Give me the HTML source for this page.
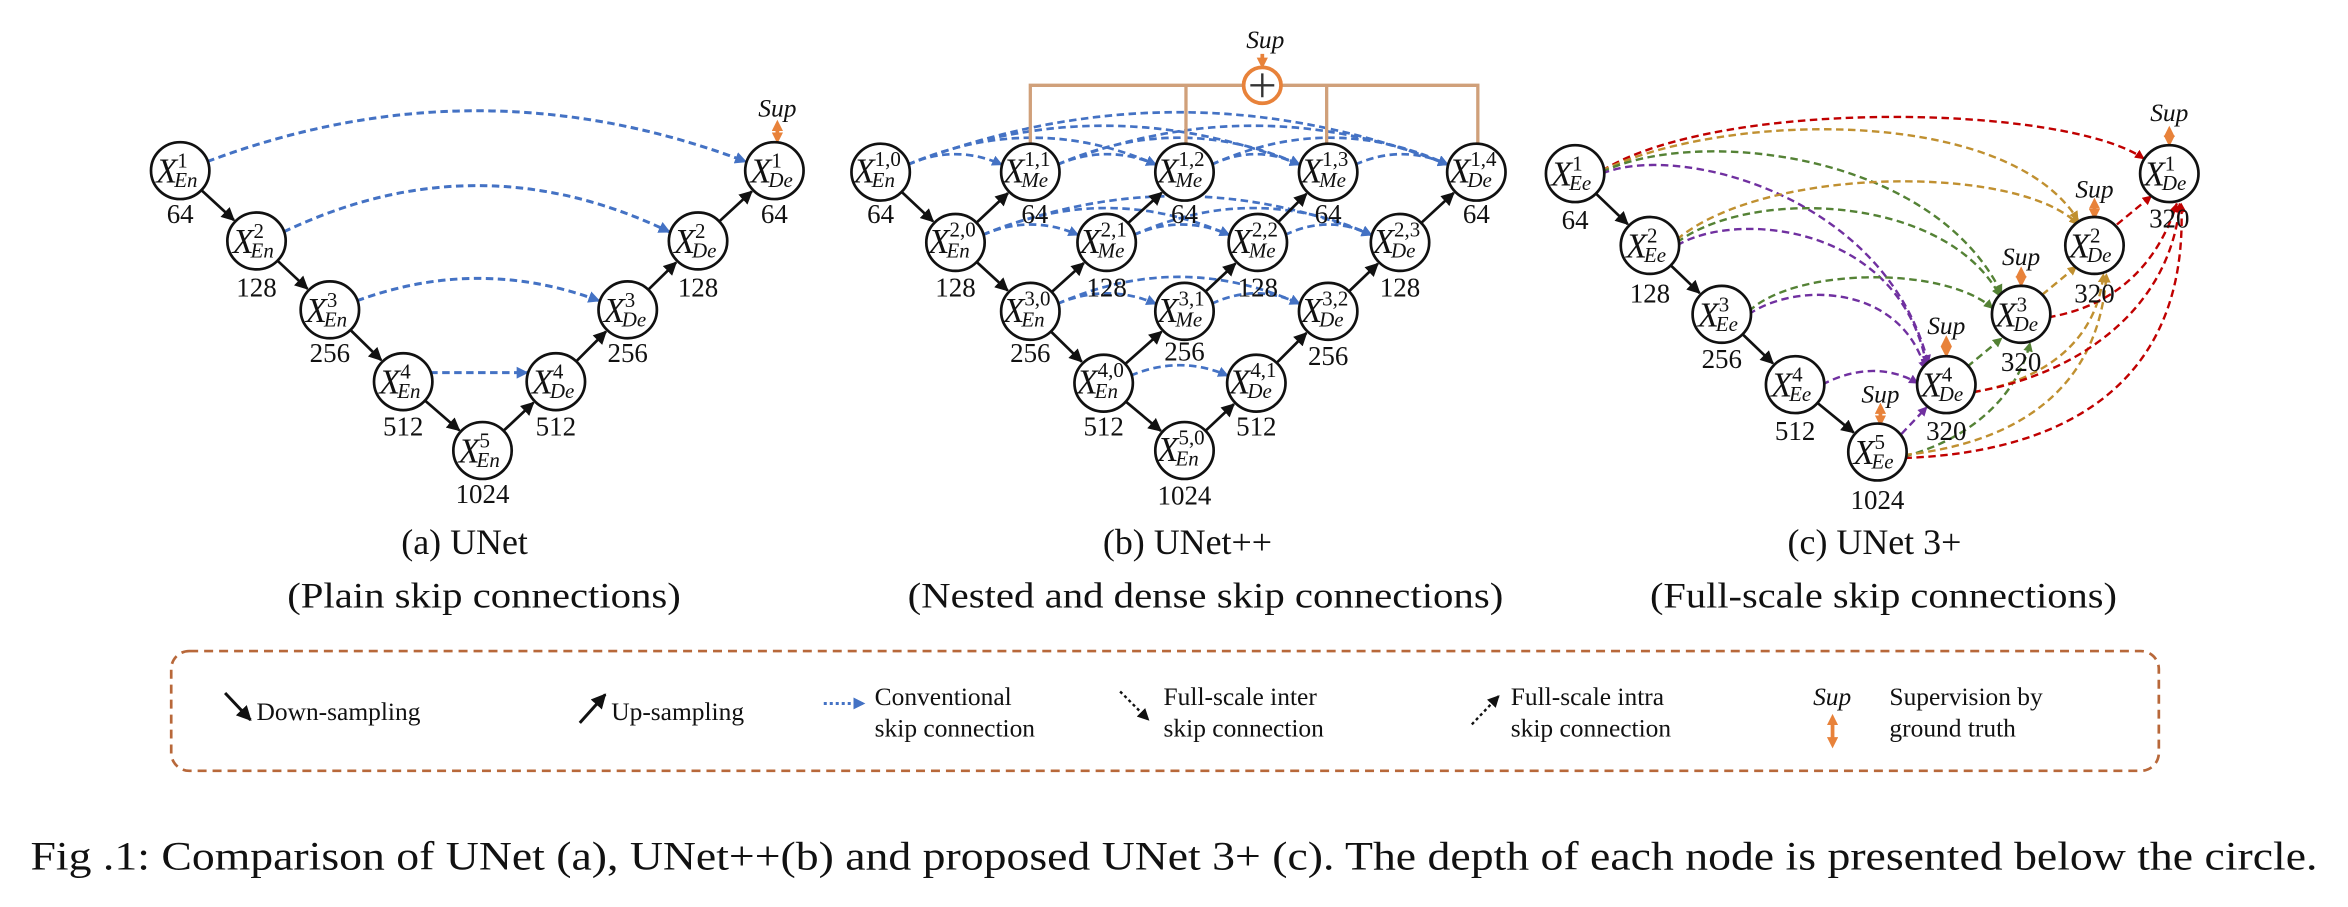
<!DOCTYPE html>
<html><head><meta charset="utf-8"><style>
html,body{margin:0;padding:0;background:#fff}
svg{display:block}
text{font-family:"Liberation Serif",serif;fill:#111}
.X{font-size:23px;font-style:italic}
.sp{font-size:14px;font-style:normal}
.sb{font-size:14px;font-style:italic}
.num{font-size:18px;text-anchor:middle}
.sup{font-size:17px;font-style:italic;text-anchor:middle}
.ttl{font-size:24px;text-anchor:middle}
.lg{font-size:17px}
</style></head><body>
<svg id="s" width="2348" height="907" viewBox="0 0 1568 606" xmlns="http://www.w3.org/2000/svg">
<defs>
<marker id="mk" viewBox="0 0 10 10" refX="9" refY="5" markerWidth="5" markerHeight="5" orient="auto"><path d="M0,0L10,5L0,10z" fill="#111"/></marker>
<marker id="mb" viewBox="0 0 10 10" refX="9" refY="5" markerWidth="4" markerHeight="4" orient="auto"><path d="M0,0L10,5L0,10z" fill="#4472c4"/></marker>
<marker id="mp" viewBox="0 0 10 10" refX="9" refY="5" markerWidth="4" markerHeight="4" orient="auto"><path d="M0,0L10,5L0,10z" fill="#7030a0"/></marker>
<marker id="mg" viewBox="0 0 10 10" refX="9" refY="5" markerWidth="4" markerHeight="4" orient="auto"><path d="M0,0L10,5L0,10z" fill="#548235"/></marker>
<marker id="mt" viewBox="0 0 10 10" refX="9" refY="5" markerWidth="4" markerHeight="4" orient="auto"><path d="M0,0L10,5L0,10z" fill="#c09030"/></marker>
<marker id="mr" viewBox="0 0 10 10" refX="9" refY="5" markerWidth="4" markerHeight="4" orient="auto"><path d="M0,0L10,5L0,10z" fill="#c00000"/></marker>
<marker id="mo" viewBox="0 0 10 10" refX="6" refY="5" markerWidth="3" markerHeight="3" orient="auto-start-reverse"><path d="M0,0L10,5L0,10z" fill="#e8823a"/></marker>
</defs>
<g id="geo"></g>

<!-- Panel a labels -->
<text class="X" x="104" y="122">X<tspan class="sp" x="118" y="112">1</tspan><tspan class="sb" x="116" y="125">En</tspan></text>
<text class="X" x="155" y="169">X<tspan class="sp" x="169" y="159">2</tspan><tspan class="sb" x="167" y="172">En</tspan></text>
<text class="X" x="204" y="215">X<tspan class="sp" x="218" y="205">3</tspan><tspan class="sb" x="216" y="218">En</tspan></text>
<text class="X" x="253" y="263">X<tspan class="sp" x="267" y="253">4</tspan><tspan class="sb" x="265" y="266">En</tspan></text>
<text class="X" x="306" y="309">X<tspan class="sp" x="320" y="299">5</tspan><tspan class="sb" x="318" y="312">En</tspan></text>
<text class="X" x="355" y="263">X<tspan class="sp" x="369" y="253">4</tspan><tspan class="sb" x="367" y="266">De</tspan></text>
<text class="X" x="403" y="215">X<tspan class="sp" x="417" y="205">3</tspan><tspan class="sb" x="415" y="218">De</tspan></text>
<text class="X" x="450" y="169">X<tspan class="sp" x="464" y="159">2</tspan><tspan class="sb" x="462" y="172">De</tspan></text>
<text class="X" x="501" y="122">X<tspan class="sp" x="515" y="112">1</tspan><tspan class="sb" x="513" y="125">De</tspan></text>
<text class="num" x="120" y="149">64</text><text class="num" x="171" y="198">128</text><text class="num" x="220" y="242">256</text><text class="num" x="269" y="291">512</text><text class="num" x="322" y="336">1024</text><text class="num" x="371" y="291">512</text><text class="num" x="419" y="242">256</text><text class="num" x="466" y="198">128</text><text class="num" x="517" y="149">64</text>
<text class="sup" x="519" y="78">Sup</text>
<text class="ttl" x="310" y="370">(a) UNet</text>
<text class="ttl" x="323" y="406" textLength="263" lengthAdjust="spacingAndGlyphs">(Plain skip connections)</text>

<!-- Panel b labels -->
<text class="X" x="570" y="122">X<tspan class="sp" x="584" y="111">1,0</tspan><tspan class="sb" x="582" y="125">En</tspan></text>
<text class="X" x="670" y="122">X<tspan class="sp" x="684" y="111">1,1</tspan><tspan class="sb" x="682" y="125">Me</tspan></text>
<text class="X" x="773" y="122">X<tspan class="sp" x="787" y="111">1,2</tspan><tspan class="sb" x="785" y="125">Me</tspan></text>
<text class="X" x="869" y="122">X<tspan class="sp" x="883" y="111">1,3</tspan><tspan class="sb" x="881" y="125">Me</tspan></text>
<text class="X" x="968" y="122">X<tspan class="sp" x="982" y="111">1,4</tspan><tspan class="sb" x="980" y="125">De</tspan></text>
<text class="X" x="620" y="169">X<tspan class="sp" x="634" y="158">2,0</tspan><tspan class="sb" x="632" y="172">En</tspan></text>
<text class="X" x="721" y="169">X<tspan class="sp" x="735" y="158">2,1</tspan><tspan class="sb" x="733" y="172">Me</tspan></text>
<text class="X" x="822" y="169">X<tspan class="sp" x="836" y="158">2,2</tspan><tspan class="sb" x="834" y="172">Me</tspan></text>
<text class="X" x="917" y="169">X<tspan class="sp" x="931" y="158">2,3</tspan><tspan class="sb" x="929" y="172">De</tspan></text>
<text class="X" x="670" y="215">X<tspan class="sp" x="684" y="204">3,0</tspan><tspan class="sb" x="682" y="218">En</tspan></text>
<text class="X" x="773" y="215">X<tspan class="sp" x="787" y="204">3,1</tspan><tspan class="sb" x="785" y="218">Me</tspan></text>
<text class="X" x="869" y="215">X<tspan class="sp" x="883" y="204">3,2</tspan><tspan class="sb" x="881" y="218">De</tspan></text>
<text class="X" x="719" y="263">X<tspan class="sp" x="733" y="252">4,0</tspan><tspan class="sb" x="731" y="266">En</tspan></text>
<text class="X" x="821" y="263">X<tspan class="sp" x="835" y="252">4,1</tspan><tspan class="sb" x="833" y="266">De</tspan></text>
<text class="X" x="773" y="308">X<tspan class="sp" x="787" y="297">5,0</tspan><tspan class="sb" x="785" y="311">En</tspan></text>
<text class="num" x="588" y="149">64</text><text class="num" x="691" y="149">64</text><text class="num" x="791" y="149">64</text><text class="num" x="887" y="149">64</text><text class="num" x="986" y="149">64</text>
<text class="num" x="638" y="198">128</text><text class="num" x="739" y="198">128</text><text class="num" x="840" y="198">128</text><text class="num" x="935" y="198">128</text>
<text class="num" x="688" y="242">256</text><text class="num" x="791" y="241">256</text><text class="num" x="887" y="244">256</text>
<text class="num" x="737" y="291">512</text><text class="num" x="839" y="291">512</text><text class="num" x="791" y="337">1024</text>
<text class="sup" x="845" y="32">Sup</text>
<text class="ttl" x="793" y="370">(b) UNet++</text>
<text class="ttl" x="805" y="406" textLength="398" lengthAdjust="spacingAndGlyphs">(Nested and dense skip connections)</text>

<!-- Panel c labels -->
<text class="X" x="1036" y="124">X<tspan class="sp" x="1050" y="114">1</tspan><tspan class="sb" x="1048" y="127">Ee</tspan></text>
<text class="X" x="1086" y="172">X<tspan class="sp" x="1100" y="162">2</tspan><tspan class="sb" x="1098" y="175">Ee</tspan></text>
<text class="X" x="1134" y="218">X<tspan class="sp" x="1148" y="208">3</tspan><tspan class="sb" x="1146" y="221">Ee</tspan></text>
<text class="X" x="1183" y="265">X<tspan class="sp" x="1197" y="255">4</tspan><tspan class="sb" x="1195" y="268">Ee</tspan></text>
<text class="X" x="1238" y="310">X<tspan class="sp" x="1252" y="300">5</tspan><tspan class="sb" x="1250" y="313">Ee</tspan></text>
<text class="X" x="1283" y="265">X<tspan class="sp" x="1297" y="255">4</tspan><tspan class="sb" x="1295" y="268">De</tspan></text>
<text class="X" x="1333" y="218">X<tspan class="sp" x="1347" y="208">3</tspan><tspan class="sb" x="1345" y="221">De</tspan></text>
<text class="X" x="1382" y="172">X<tspan class="sp" x="1396" y="162">2</tspan><tspan class="sb" x="1394" y="175">De</tspan></text>
<text class="X" x="1432" y="124">X<tspan class="sp" x="1446" y="114">1</tspan><tspan class="sb" x="1444" y="127">De</tspan></text>
<text class="num" x="1052" y="153">64</text><text class="num" x="1102" y="202">128</text><text class="num" x="1150" y="246">256</text><text class="num" x="1199" y="294">512</text><text class="num" x="1254" y="340">1024</text>
<text class="num" x="1300" y="294">320</text><text class="num" x="1350" y="248">320</text><text class="num" x="1399" y="202">320</text><text class="num" x="1449" y="152">320</text>
<text class="sup" x="1449" y="81">Sup</text><text class="sup" x="1399" y="132">Sup</text><text class="sup" x="1350" y="177">Sup</text><text class="sup" x="1300" y="223">Sup</text><text class="sup" x="1256" y="269">Sup</text>
<text class="ttl" x="1252" y="370">(c) UNet 3+</text>
<text class="ttl" x="1258" y="406" textLength="312" lengthAdjust="spacingAndGlyphs">(Full-scale skip connections)</text>

<!-- Legend -->
<rect x="114" y="435" width="1328" height="80" rx="12" fill="none" stroke="#b8683a" stroke-width="1.8" stroke-dasharray="6 4"/>
<line x1="150" y1="463" x2="167" y2="481" stroke="#111" stroke-width="2" marker-end="url(#mk)"/>
<text class="lg" x="171" y="481">Down-sampling</text>
<line x1="387" y1="483" x2="404" y2="464" stroke="#111" stroke-width="2" marker-end="url(#mk)"/>
<text class="lg" x="408" y="481">Up-sampling</text>
<line x1="550" y1="470" x2="577" y2="470" stroke="#4472c4" stroke-width="2" stroke-dasharray="2 2" marker-end="url(#mb)"/>
<text class="lg" x="584" y="471">Conventional</text><text class="lg" x="584" y="492">skip connection</text>
<line x1="748" y1="462" x2="767" y2="481" stroke="#111" stroke-width="1.6" stroke-dasharray="2 2" marker-end="url(#mk)"/>
<text class="lg" x="777" y="471">Full-scale inter</text><text class="lg" x="777" y="492">skip connection</text>
<line x1="983" y1="484" x2="1001" y2="465" stroke="#111" stroke-width="1.6" stroke-dasharray="2 2" marker-end="url(#mk)"/>
<text class="lg" x="1009" y="471">Full-scale intra</text><text class="lg" x="1009" y="492">skip connection</text>
<text class="lg" x="1211" y="471" font-style="italic">Sup</text>
<line x1="1224" y1="480" x2="1224" y2="497" stroke="#e8823a" stroke-width="2.5" marker-start="url(#mo)" marker-end="url(#mo)"/>
<text class="lg" x="1262" y="471">Supervision by</text><text class="lg" x="1262" y="492">ground truth</text>

<text x="20" y="581" font-size="27" textLength="1528" lengthAdjust="spacingAndGlyphs">Fig .1: Comparison of UNet (a), UNet++(b) and proposed UNet 3+ (c). The depth of each node is presented below the circle.</text>
</svg>
<script>
(function(){
var NS="http://www.w3.org/2000/svg",g=document.getElementById("geo");
function el(t,a){var e=document.createElementNS(NS,t);for(var k in a)e.setAttribute(k,a[k]);g.appendChild(e);return e;}
var R=19.5;
function arrow(a,b){var dx=b[0]-a[0],dy=b[1]-a[1],d=Math.sqrt(dx*dx+dy*dy),ux=dx/d,uy=dy/d;
 el("line",{x1:a[0]+ux*R,y1:a[1]+uy*R,x2:b[0]-ux*(R+1),y2:b[1]-uy*(R+1),stroke:"#111","stroke-width":1.8,"marker-end":"url(#mk)"});}
function path(d,c,m,w){el("path",{d:d,fill:"none",stroke:c,"stroke-width":w||1.6,"stroke-dasharray":"5 3","marker-end":"url(#"+m+")"});}
function node(p){el("ellipse",{cx:p[0],cy:p[1],rx:R,ry:R-0.5,fill:"#fff",stroke:"#111","stroke-width":1.8});}
var A={e1:[120,114],e2:[171,161],e3:[220,207],e4:[269,255],e5:[322,301],d4:[371,255],d3:[419,207],d2:[466,161],d1:[517,114]};
var arcsA=[["e1","d1",74],["e2","d2",124],["e3","d3",186],["e4","d4",249]];
arcsA.forEach(function(r){var a=A[r[0]],b=A[r[1]],sy=a[1]-6,ey=b[1]-6,cy=2*r[2]-(sy+ey)/2;
 path("M"+(a[0]+18)+","+sy+" Q"+((a[0]+b[0])/2)+","+cy+" "+(b[0]-19)+","+ey,"#4472c4","mb",2);});
var B={"10":[588,115],"11":[688,115],"12":[791,115],"13":[887,115],"14":[986,115],"20":[638,162],"21":[739,162],"22":[840,162],"23":[935,162],"30":[688,208],"31":[791,208],"32":[887,208],"40":[737,256],"41":[839,256],"50":[791,301]};
var off=[0,-12,-23,-31,-40];
[["10","11","12","13","14"],["20","21","22","23"],["30","31","32"],["40","41"]].forEach(function(row){
 for(var i=0;i<row.length;i++)for(var j=i+1;j<row.length;j++){var a=B[row[i]],b=B[row[j]],sy=a[1]-5,ey=b[1]-5,pk=a[1]+off[j-i],cy=2*pk-(sy+ey)/2;
  path("M"+(a[0]+18)+","+sy+" Q"+((a[0]+b[0])/2)+","+cy+" "+(b[0]-19)+","+ey,"#4472c4","mb",1.8);}});
var br="#d0a07a";
el("path",{d:"M688,96 V57 H987 V96 M792,57 V96 M886,57 V96",fill:"none",stroke:br,"stroke-width":2.2});
el("ellipse",{cx:843,cy:57,rx:12.5,ry:12,fill:"#fff",stroke:"#e8823a","stroke-width":2.5});
el("path",{d:"M835,57 H851 M843,49 V65",stroke:"#333","stroke-width":1.6});
el("line",{x1:843,y1:36,x2:843,y2:43,stroke:"#e8823a","stroke-width":2.5,"marker-end":"url(#mo)"});
var P="#7030a0",G="#548235",T="#c09030",Rr="#c00000";
path("M1070,114 C1150,65 1380,70 1432,106",Rr,"mr");
path("M1070,114 C1150,75 1340,70 1388,147",T,"mt");
path("M1070,115 C1130,85 1290,100 1337,196",G,"mg");
path("M1070,116 C1120,95 1260,130 1288,243",P,"mp");
path("M1120,160 C1180,110 1350,110 1388,150",T,"mt");
path("M1120,162 C1170,125 1300,130 1336,198",G,"mg");
path("M1120,164 C1160,140 1270,150 1287,245",P,"mp");
path("M1168,208 C1200,178 1300,178 1331,206",G,"mg");
path("M1168,210 C1200,188 1270,190 1286,247",P,"mp");
path("M1217,257 C1240,245 1262,245 1281,256",P,"mp");
path("M1270,290 L1287,272",P,"mp");
path("M1314,245 L1337,226",G,"mg");
path("M1272,305 C1320,292 1348,262 1356,229",G,"mg");
path("M1364,197 L1387,178",T,"mt");
path("M1318,262 C1360,255 1400,232 1405,183",T,"mt");
path("M1272,304 C1345,296 1402,262 1407,183",T,"mt");
path("M1414,150 L1437,131",Rr,"mr");
path("M1368,212 C1410,205 1440,180 1454,136",Rr,"mr");
path("M1318,262 C1390,250 1450,205 1456,136",Rr,"mr");
path("M1272,306 C1385,302 1462,252 1457,136",Rr,"mr");
var C={e1:[1052,116],e2:[1102,164],e3:[1150,210],e4:[1199,257],e5:[1254,302],d4:[1300,257],d3:[1350,210],d2:[1399,164],d1:[1449,116]};
[["e1","e2"],["e2","e3"],["e3","e4"],["e4","e5"],["e5","d4"],["d4","d3"],["d3","d2"],["d2","d1"]].forEach(function(p){arrow(A[p[0]],A[p[1]]);});
[["10","20"],["20","30"],["30","40"],["40","50"],["20","11"],["30","21"],["21","12"],["40","31"],["31","22"],["22","13"],["50","41"],["41","32"],["32","23"],["23","14"]].forEach(function(p){arrow(B[p[0]],B[p[1]]);});
[["e1","e2"],["e2","e3"],["e3","e4"],["e4","e5"]].forEach(function(p){arrow(C[p[0]],C[p[1]]);});
function sup(x,y1,y2){el("line",{x1:x,y1:y1,x2:x,y2:y2,stroke:"#e8823a","stroke-width":2.5,"marker-start":"url(#mo)","marker-end":"url(#mo)"});}
sup(519,83,93);sup(1449,87,95);sup(1399,135,144);sup(1350,181,189);sup(1300,227,236);sup(1256,272,282);
[A,B,C].forEach(function(S){for(var k in S)node(S[k]);});
})();
</script>
</body></html>
